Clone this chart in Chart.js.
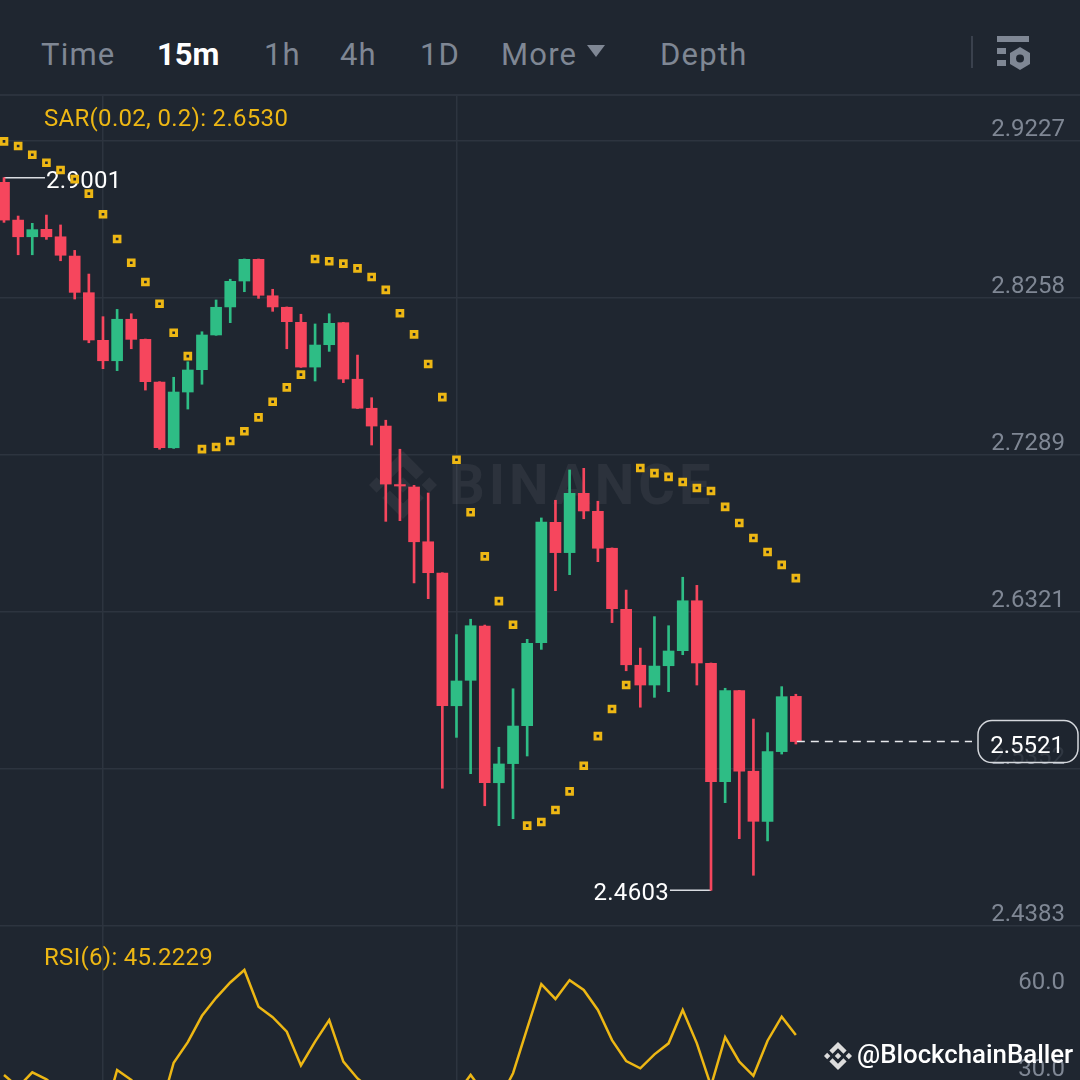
<!DOCTYPE html>
<html>
<head>
<meta charset="utf-8">
<title>SAR / RSI 15m</title>
<script src="https://cdn.jsdelivr.net/npm/chart.js@4/dist/chart.umd.min.js"></script>
<style>
  html, body { margin: 0; padding: 0; background: #1f2630; }
  #page { position: relative; width: 1080px; height: 1080px; overflow: hidden; font-family: Roboto, sans-serif; }
  #nav { position: absolute; left: 0; top: 0; width: 1080px; height: 94px; border-bottom: 2px solid #2b323d; }
  #nav span { position: absolute; top: 35px; font-size: 31px; line-height: 40px; letter-spacing: 1.2px; color: #7f8794; }
  #nav span.on { color: #fff; font-weight: 700; letter-spacing: 0; }
  #nav svg { position: absolute; left: 0; top: 0; }
  #priceChart { position: absolute; left: 0; top: 96px; }
  #rsiChart { position: absolute; left: 0; top: 926px; }
</style>
</head>
<body>
<div id="page">
  <div id="nav">
    <span style="left:41px">Time</span>
    <span class="on" style="left:157px">15m</span>
    <span style="left:264px">1h</span>
    <span style="left:340px">4h</span>
    <span style="left:420px">1D</span>
    <span style="left:501px">More</span>
    <span style="left:660px">Depth</span>
    <svg width="1080" height="94">
      <path d="M587 45h18l-9 12z" fill="#7f8794"/>
      <path d="M972 36v32" stroke="#3a414d" stroke-width="2"/>
      <path d="M997 36h32v6h-32zM997 48h9v6h-9zM997 60h9v6h-9z" fill="#7f8794"/>
      <path d="M1020 47l10 6v11l-10 6-10-6v-11z" fill="#7f8794"/>
      <circle cx="1020" cy="58.500" r="4" fill="#1f2630"/>
    </svg>
  </div>
  <canvas id="priceChart" width="1080" height="834"></canvas>
  <canvas id="rsiChart" width="1080" height="154"></canvas>
</div>

<script>
const opens = [2.8972,2.8739,2.8636,2.8682,2.8636,2.8517,2.8291,2.7997,2.7871,2.8127,
  2.8003,2.7740,2.7334,2.7678,2.7816,2.8030,2.8203,2.8363,2.8497,2.8272,
  2.8201,2.8108,2.7832,2.7970,2.8106,2.7757,2.7578,2.7468,2.7107,2.7092,
  2.6754,2.6561,2.5742,2.5899,2.6234,2.5267,2.5385,2.5619,2.6131,2.6874,
  2.6687,2.7053,2.6942,2.6714,2.6337,2.5992,2.5870,2.5989,2.6082,2.6390,
  2.6004,2.5273,2.5835,2.5338,2.5029,2.5459,2.5800];
const closes = [2.8739,2.8636,2.8680,2.8636,2.8522,2.8293,2.7999,2.7871,2.8127,2.8003,
  2.7742,2.7334,2.7678,2.7814,2.8030,2.8201,2.8361,2.8497,2.8275,2.8203,
  2.8112,2.7832,2.7968,2.8102,2.7758,2.7578,2.7468,2.7110,2.7098,2.6754,
  2.6563,2.5742,2.5895,2.6236,2.5267,2.5383,2.5617,2.6127,2.6876,2.6687,
  2.7053,2.6944,2.6714,2.6341,2.5995,2.5870,2.5987,2.6080,2.6390,2.6006,
  2.5273,2.5835,2.5339,2.5029,2.5459,2.5798,2.5521];
const highs = [2.9001,2.8764,2.8719,2.8770,2.8709,2.8552,2.8406,2.8143,2.8188,2.8161,
  2.8005,2.7742,2.7769,2.7865,2.8050,2.8246,2.8374,2.8499,2.8499,2.8312,
  2.8203,2.8158,2.8098,2.8161,2.8108,2.7906,2.7643,2.7504,2.7325,2.7102,
  2.7055,2.6563,2.6181,2.6276,2.6240,2.5486,2.5847,2.6152,2.6901,2.7010,
  2.7197,2.7207,2.7004,2.6716,2.6456,2.6098,2.6292,2.6236,2.6535,2.6485,
  2.6006,2.5850,2.5837,2.5660,2.5576,2.5860,2.5813];
const lows = [2.8725,2.8525,2.8525,2.8620,2.8488,2.8252,2.7982,2.7822,2.7810,2.7945,
  2.7690,2.7325,2.7330,2.7573,2.7726,2.8028,2.8106,2.8297,2.8256,2.8176,
  2.7945,2.7830,2.7746,2.7929,2.7736,2.7576,2.7351,2.6880,2.6884,2.6500,
  2.6403,2.5233,2.5547,2.5323,2.5125,2.5002,2.5045,2.5432,2.6090,2.6452,
  2.6551,2.6896,2.6631,2.6255,2.5958,2.5733,2.5794,2.5829,2.6057,2.5870,
  2.4603,2.5144,2.4922,2.4696,2.4908,2.5444,2.5506];
const sarValues = [2.9225,2.9196,2.9142,2.9093,2.9048,2.8992,2.8902,2.8775,2.8622,2.8476,
  2.8357,2.8223,2.8044,2.7900,2.7326,2.7339,2.7376,2.7436,2.7522,2.7618,
  2.7707,2.7785,2.8499,2.8485,2.8470,2.8441,2.8388,2.8308,2.8164,2.8034,
  2.7851,2.7647,2.7260,2.6936,2.6664,2.6388,2.6242,2.5002,2.5025,2.5099,
  2.5214,2.5372,2.5555,2.5722,2.5870,2.7209,2.7178,2.7154,2.7123,2.7086,
  2.7067,2.6969,2.6870,2.6777,2.6691,2.6611,2.6530];
// the stretches below the bottom edge of the picture are estimates
const rsiValues = [31.4,27.2,32.3,29.9,26,23,21,16,33.1,29.7,
  24.5,18.3,35.6,42.7,51.8,58.0,63.3,67.6,54.9,51.3,
  46.3,34.7,42.9,50.3,36,30.2,26.2,22.8,21,19.3,
  17.6,14.1,24.8,31.4,24.8,22.5,32,47.5,62.7,57.6,
  64.1,60.7,53.8,43.4,36.2,33.7,38.5,42.3,53.8,42.3,
  27.6,44.4,36,31.1,43.2,51.5,45.2];
const priceTicks = [2.9227, 2.8258, 2.7289, 2.6321, 2.5352, 2.4383];
const rsiTicks = [60, 30];
const timeGridLines = [7, 32];
const sarLabel = "SAR(0.02, 0.2): 2.6530";
const rsiLabel = "RSI(6): 45.2229";
const lastPrice = 2.5521;
const watermarkHandle = "@BlockchainBaller";

const UP = "#2ebd85";
const DOWN = "#f6465d";
const YELLOW = "#edb714";
const GRID = "#2d343f";
const AXIS_TEXT = "#7f8794";
const FONT = "Roboto, sans-serif";

const candleIndex = opens.map((_, i) => i);
const candleColors = opens.map((o, i) => (closes[i] >= o ? UP : DOWN));

function drawLogo(ctx, x, y, size, color) {
  const logo = new Path2D("M38.73 53.2 63.3 28.63 87.89 53.21 102.19 38.91 63.3 0 24.42 38.9Z" +
    "M14.3 48.99 28.6 63.29 14.3 77.59 0 63.3Z" +
    "M38.73 73.41 63.3 97.98 87.89 73.4 102.19 87.7 63.3 126.61 24.42 87.72Z" +
    "M112.31 48.99 126.61 63.29 112.31 77.59 98.01 63.3Z" +
    "M77.8 63.3 63.3 48.79 48.8 63.29 63.3 77.79Z");
  ctx.save();
  ctx.translate(x, y);
  ctx.scale(size / 126.61, size / 126.61);
  ctx.fillStyle = color;
  ctx.fill(logo);
  ctx.restore();
}

function xAxis() {
  return {
    type: "linear",
    offset: false,
    min: -0.283,
    max: 76.096,
    afterBuildTicks: scale => { scale.ticks = timeGridLines.map(value => ({ value })); },
    afterFit: scale => { scale.height = 0; },
    ticks: { display: false },
    border: { display: false },
    grid: { offset: false, color: GRID, lineWidth: 1.5, drawTicks: false }
  };
}

// labels sit inside the plot at the right edge, just above their grid line
function yAxis(min, max, values, digits, lift, grid) {
  return {
    position: "right",
    min,
    max,
    afterBuildTicks: scale => { scale.ticks = values.map(value => ({ value })); },
    afterFit: scale => { scale.width = 0; },
    ticks: {
      mirror: true,
      padding: -15,
      labelOffset: lift,
      autoSkip: false,
      color: AXIS_TEXT,
      font: { family: FONT, size: 24 },
      callback: v => v.toFixed(digits)
    },
    border: { display: false },
    grid: { display: grid, color: GRID, lineWidth: 1.5, drawTicks: false }
  };
}

const priceBackground = {
  id: "priceBackground",
  beforeDatasetsDraw(chart) {
    const { ctx, scales: { x, y } } = chart;
    ctx.save();
    // watermark
    drawLogo(ctx, 369, 355, 68, "rgba(255,255,255,0.06)");
    ctx.fillStyle = "rgba(255,255,255,0.06)";
    ctx.font = `700 56px ${FONT}`;
    ctx.letterSpacing = "4px";
    ctx.textAlign = "left";
    ctx.textBaseline = "middle";
    ctx.fillText("BINANCE", 449, 394);
    ctx.letterSpacing = "0.3px";

    // SAR legend
    ctx.fillStyle = YELLOW;
    ctx.font = `24px ${FONT}`;
    ctx.fillText(sarLabel, 44, 24);

    // high and low markers
    ctx.strokeStyle = "#d9dce1";
    ctx.lineWidth = 1.5;
    ctx.fillStyle = "#fff";
    const hx = x.getPixelForValue(0), hy = y.getPixelForValue(highs[0]);
    ctx.beginPath();
    ctx.moveTo(hx, hy);
    ctx.lineTo(hx + 41, hy);
    ctx.stroke();
    ctx.textAlign = "left";
    ctx.fillText(highs[0].toFixed(4), hx + 42, hy + 4);
    const lx = x.getPixelForValue(50), ly = y.getPixelForValue(lows[50]);
    ctx.beginPath();
    ctx.moveTo(lx, ly);
    ctx.lineTo(lx - 41, ly);
    ctx.stroke();
    ctx.textAlign = "right";
    ctx.fillText(lows[50].toFixed(4), lx - 42, ly + 4);
    ctx.restore();
  }
};

const lastPriceTag = {
  id: "lastPriceTag",
  afterDraw(chart) {
    const { ctx, scales: { x, y } } = chart;
    const py = y.getPixelForValue(lastPrice);
    ctx.save();
    ctx.strokeStyle = "#e6e8eb";
    ctx.lineWidth = 1.5;
    ctx.setLineDash([8, 6]);
    ctx.beginPath();
    ctx.moveTo(x.getPixelForValue(56) + 1, py);
    ctx.lineTo(972, py);
    ctx.stroke();
    ctx.setLineDash([]);
    ctx.beginPath();
    ctx.roundRect(978, py - 21, 100, 42, 14);
    ctx.fillStyle = "rgba(31,38,48,0.82)";
    ctx.fill();
    ctx.strokeStyle = "#d4d7dc";
    ctx.stroke();
    ctx.fillStyle = "#fff";
    ctx.font = `24px ${FONT}`;
    ctx.textAlign = "right";
    ctx.textBaseline = "middle";
    ctx.fillText(lastPrice.toFixed(4), 1064, py + 5);
    ctx.restore();
  }
};

const rsiOverlay = {
  id: "rsiOverlay",
  afterDraw(chart) {
    const { ctx } = chart;
    ctx.save();
    ctx.fillStyle = YELLOW;
    ctx.font = `24px ${FONT}`;
    ctx.letterSpacing = "0.3px";
    ctx.textBaseline = "middle";
    ctx.fillText(rsiLabel, 44, 33);
    ctx.letterSpacing = "0px";
    drawLogo(ctx, 824, 116, 28, "#dcdcdc");
    ctx.fillStyle = "#fff";
    ctx.font = `500 25.8px ${FONT}`;
    ctx.fillText(watermarkHandle, 857, 131);
    ctx.restore();
  }
};

new Chart(document.getElementById("priceChart"), {
  data: {
    datasets: [
      {
        type: "line",
        data: candleIndex.map(i => ({ x: i, y: sarValues[i] })),
        showLine: false,
        pointStyle: "rect",
        pointRadius: 4,
        pointBackgroundColor: "#1f2630",
        pointBorderColor: YELLOW,
        pointBorderWidth: 3
      },
      {
        type: "bar",
        data: candleIndex.map(i => ({ x: i, y: [opens[i], closes[i]] })),
        backgroundColor: candleColors,
        barThickness: 11,
        grouped: false,
        borderWidth: 0
      },
      {
        type: "bar",
        data: candleIndex.map(i => ({ x: i, y: [lows[i], highs[i]] })),
        backgroundColor: candleColors,
        barThickness: 2,
        grouped: false,
        borderWidth: 0
      }
    ]
  },
  options: {
    responsive: false,
    animation: false,
    events: [],
    layout: { padding: 0, autoPadding: false },
    scales: {
      x: xAxis(),
      y: yAxis(2.43583, 2.95047, priceTicks, 4, -11, true)
    },
    plugins: { legend: { display: false }, tooltip: { enabled: false } }
  },
  plugins: [priceBackground, lastPriceTag]
});

new Chart(document.getElementById("rsiChart"), {
  type: "line",
  data: {
    datasets: [{
      data: candleIndex.map(i => ({ x: i, y: rsiValues[i] })),
      borderColor: YELLOW,
      borderWidth: 2.5,
      pointRadius: 0,
      tension: 0
    }]
  },
  options: {
    responsive: false,
    animation: false,
    events: [],
    layout: { padding: 0, autoPadding: false },
    scales: {
      x: xAxis(),
      y: yAxis(29.66, 82.76, rsiTicks, 1, -9, false)
    },
    plugins: { legend: { display: false }, tooltip: { enabled: false } }
  },
  plugins: [rsiOverlay]
});
</script>
</body>
</html>
